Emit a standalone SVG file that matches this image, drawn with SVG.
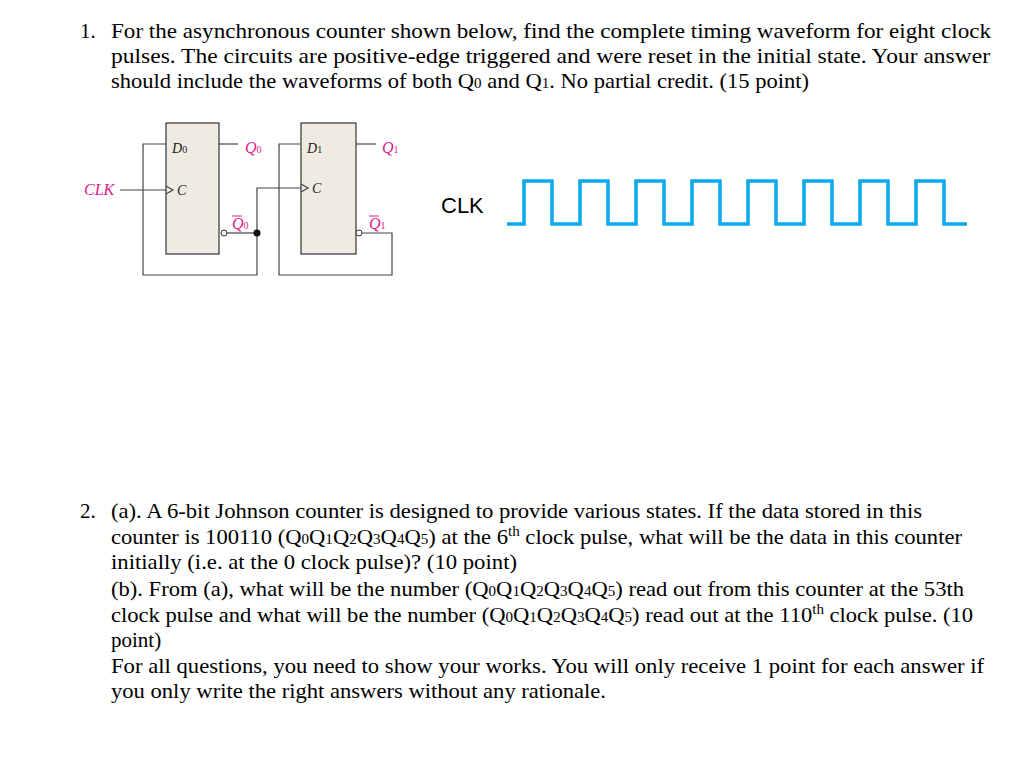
<svg xmlns="http://www.w3.org/2000/svg" width="1024" height="767" viewBox="0 0 1024 767">
<style>
.t{font-family:"Liberation Serif",serif;font-size:21px;fill:#000}
.s{font-size:14px}
.w{stroke:#444;stroke-width:1.2;fill:none}
.ff{fill:#efebe3;stroke:#333;stroke-width:1.2}
.pk{font-family:"Liberation Serif",serif;font-size:16px;fill:#e0208c;font-style:italic}
.lb{font-family:"Liberation Serif",serif;font-size:14px;fill:#222;font-style:italic}
</style>
<rect width="1024" height="767" fill="#fff"/>
<g class="t">
<text x="80" y="38">1.</text>
<text x="111" y="38" textLength="880" lengthAdjust="spacingAndGlyphs">For the asynchronous counter shown below, find the complete timing waveform for eight clock</text>
<text x="111" y="63" textLength="879" lengthAdjust="spacingAndGlyphs">pulses. The circuits are positive-edge triggered and were reset in the initial state. Your answer</text>
<text x="111" y="88" textLength="698" lengthAdjust="spacingAndGlyphs">should include the waveforms of both Q<tspan class="s">0</tspan> and Q<tspan class="s">1</tspan>. No partial credit. (15 point)</text>
<text x="80" y="518">2.</text>
<text x="111" y="518" textLength="811" lengthAdjust="spacingAndGlyphs">(a). A 6-bit Johnson counter is designed to provide various states. If the data stored in this</text>
<text x="111" y="544" textLength="851" lengthAdjust="spacingAndGlyphs">counter is 100110 (Q<tspan class="s">0</tspan>Q<tspan class="s">1</tspan>Q<tspan class="s">2</tspan>Q<tspan class="s">3</tspan>Q<tspan class="s">4</tspan>Q<tspan class="s">5</tspan>) at the 6<tspan class="s" dy="-8">th</tspan><tspan dy="8"> clock pulse, what will be the data in this counter</tspan></text>
<text x="111" y="569" textLength="406" lengthAdjust="spacingAndGlyphs">initially (i.e. at the 0 clock pulse)? (10 point)</text>
<text x="111" y="596" textLength="853" lengthAdjust="spacingAndGlyphs">(b). From (a), what will be the number (Q<tspan class="s">0</tspan>Q<tspan class="s">1</tspan>Q<tspan class="s">2</tspan>Q<tspan class="s">3</tspan>Q<tspan class="s">4</tspan>Q<tspan class="s">5</tspan>) read out from this counter at the 53th</text>
<text x="111" y="622" textLength="862" lengthAdjust="spacingAndGlyphs">clock pulse and what will be the number (Q<tspan class="s">0</tspan>Q<tspan class="s">1</tspan>Q<tspan class="s">2</tspan>Q<tspan class="s">3</tspan>Q<tspan class="s">4</tspan>Q<tspan class="s">5</tspan>) read out at the 110<tspan class="s" dy="-8">th</tspan><tspan dy="8"> clock pulse. (10</tspan></text>
<text x="111" y="647">point)</text>
<text x="111" y="673" textLength="873" lengthAdjust="spacingAndGlyphs">For all questions, you need to show your works. You will only receive 1 point for each answer if</text>
<text x="111" y="698" textLength="495" lengthAdjust="spacingAndGlyphs">you only write the right answers without any rationale.</text>
</g>
<g id="ff0"><rect class="ff" x="166" y="123" width="53" height="131"/>
<text class="lb" x="172" y="153">D<tspan font-size="10" font-style="normal">0</tspan></text>
<path class="w" d="M166 186 l7 4 -7 4"/><text class="lb" x="177" y="195">C</text></g>
<g id="ff1"><rect class="ff" x="301" y="123" width="55" height="131"/>
<text class="lb" x="307" y="153">D<tspan font-size="10" font-style="normal">1</tspan></text>
<path class="w" d="M301 184 l7 4 -7 4"/><text class="lb" x="312" y="193">C</text></g>
<g id="labels">
<text class="pk" x="84" y="195" font-style="normal" font-size="15">CLK</text>
<text class="pk" x="245" y="153">Q<tspan font-size="10" font-style="normal">0</tspan></text>
<text class="pk" x="382" y="153">Q<tspan font-size="10" font-style="normal">1</tspan></text>
<text class="pk" x="232" y="229">Q<tspan font-size="10" font-style="normal">0</tspan></text>
<path d="M232 216h10" stroke="#e0208c" stroke-width="1"/>
<text class="pk" x="369" y="229">Q<tspan font-size="10" font-style="normal">1</tspan></text>
<path d="M369 216h10" stroke="#e0208c" stroke-width="1"/>
</g>
<g id="connectors">
<path class="w" d="M120 190H166"/>
<path class="w" d="M166 144H143V275H257V188H301"/>
<path class="w" d="M219 144H238"/>
<path class="w" d="M227 233H257"/>
<circle cx="257" cy="233" r="3.5" fill="#111"/>
<circle cx="224" cy="233" r="3" fill="#fff" stroke="#333"/>
<path class="w" d="M301 144H279V275H392V233H362"/>
<circle cx="359" cy="233" r="3" fill="#fff" stroke="#333"/>
<path class="w" d="M356 144H376"/>
</g>
<g id="clk">
<text x="441" y="213" font-family="Liberation Sans,sans-serif" font-size="22" fill="#000">CLK</text>
<path fill="none" stroke="#0aaaf0" stroke-width="3.5" d="M507 224H524V181H552V224H580V181H608V224H636V181H664V224H692V181H720V224H748V181H776V224H804V181H832V224H860V181H888V224H916V181H944V224H967"/>
</g>
</svg>
